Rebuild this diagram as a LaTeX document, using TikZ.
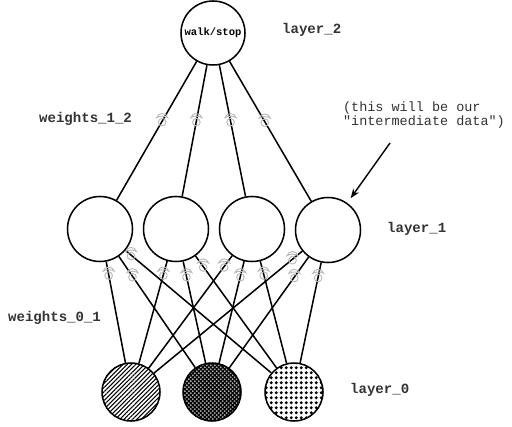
\documentclass[tikz,border=0pt]{standalone}
\usepackage{fontspec}
\setmonofont{Liberation Mono}
\usetikzlibrary{calc,arrows.meta,patterns.meta}
\begin{document}
\begin{tikzpicture}[x=0.03cm, y=-0.03cm,
        neuron/.style={circle, draw, line width=1.3pt, inner sep=0pt, minimum size=1.95cm},
        input/.style={neuron, minimum size=1.74cm},
        tag/.style={anchor=west, text=black!80, font=\fontsize{12}{14}\selectfont\ttfamily\bfseries},
        edge/.style={line width=1.3pt},
        arrow/.style={-{Stealth[length=8pt,width=6pt]}, line width=1.2pt},
        knob/.pic={
            \draw[gray!55, line width=0.8pt] (0,1) circle (3.8);
            \draw[gray!55, line width=0.8pt] (-5.5,-3.5) .. controls (-4,-9) and (4,-9) .. (5.5,-3.5) .. controls (2.5,-5.5) and (-2.5,-5.5) .. cycle;
        }
    ]
        \useasboundingbox (0,0) rectangle (512,427);

        \node[neuron, minimum size=1.92cm, font=\fontsize{9}{10}\selectfont\ttfamily\bfseries] (o) at (213,33) {walk/stop};
        \node[neuron] (h1) at (100,229) {};
        \node[neuron] (h2) at (176,229) {};
        \node[neuron] (h3) at (252,229) {};
        \node[neuron] (h4) at (328,230) {};
        \node[input, pattern={Lines[angle=45,distance=2.6pt,line width=0.9pt]}] (i1) at (131,392) {};
        \node[input, preaction={fill=gray!55}, pattern={Hatch[angle=45,distance=2.4pt,line width=1pt]}] (i2) at (212,392) {};
        \node[input, pattern={Dots[distance=4pt,radius=1.5pt]}] (i3) at (294,392) {};

        \node[tag] (l2) at (278,30) {layer\_2};
        \node[tag] (w12) at (35,119) {weights\_1\_2};
        \node[tag] (l1) at (383,229) {layer\_1};
        \node[tag] (w01) at (4,318) {weights\_0\_1};
        \node[tag] (l0) at (346,390) {layer\_0};
        \node[anchor=west, align=left, text=black!80, font=\fontsize{11.5}{12}\selectfont\ttfamily] (note) at (339,115) {(this will be our\\"intermediate data")};

        \foreach \h in {h1,h2,h3,h4} {
            \draw[edge] (o) -- (\h);
            \path ($(o)!0.45!(\h)$) pic {knob};
        }
        \foreach \h/\i/\t in {h1/i1/0.28, h1/i2/0.29, h1/i3/0.16, h2/i1/0.28, h2/i2/0.29, h2/i3/0.23,
                             h3/i1/0.23, h3/i2/0.29, h3/i3/0.28, h4/i1/0.18, h4/i2/0.29, h4/i3/0.29} {
            \draw[edge] (\h) -- (\i);
            \path ($(\h)!\t!(\i)$) pic {knob};
        }

        \coordinate (tail) at (390,143);
        \draw[arrow, shorten >=5pt] (tail) -- (h4);
    \end{tikzpicture}
\end{document}
